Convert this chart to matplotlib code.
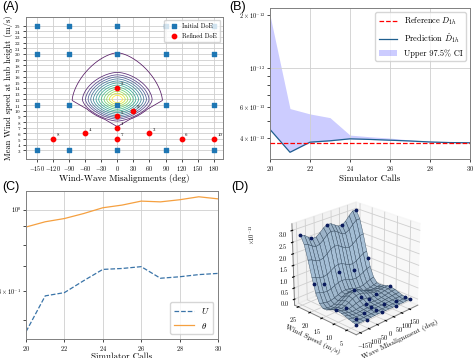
import numpy as np
import matplotlib
matplotlib.use('Agg')
import matplotlib.pyplot as plt
from mpl_toolkits.mplot3d import Axes3D  # noqa

plt.rcParams['font.family'] = 'serif'
plt.rcParams['font.serif'] = ['cmr10', 'DejaVu Serif']
plt.rcParams['mathtext.fontset'] = 'cm'
plt.rcParams['axes.formatter.use_mathtext'] = True
plt.rcParams['axes.edgecolor'] = '#808080'
plt.rcParams['axes.linewidth'] = 0.7
plt.rcParams['grid.color'] = '#cfcfcf'
plt.rcParams['grid.linewidth'] = 0.6

# ---------------- data ----------------
# Panel A: design of experiments
init_mis = [-150, -90, 0, 90, 180]
init_wind = [3, 11, 20, 25]
ref_mis = [0, 0, 60, -60, 0, 120, 0, -120, 30, 180]
ref_wind = [7, 14, 6, 6, 9, 5, 5, 5, 10, 5]
ref_order = [1, 2, 3, 4, 5, 6, 7, 8, 9, 10]
x_ticks_a = [-150, -120, -90, -60, -30, 0, 30, 60, 90, 120, 150, 180]
y_ticks_a = list(range(3, 26))

# Panel B: damage convergence
calls = [20, 21, 22, 23, 24, 25, 26, 27, 28, 29, 30]
d_reference = 3.76e-13
d_pred = [4.49e-13, 3.33e-13, 3.80e-13, 3.87e-13, 3.97e-13, 3.94e-13,
          3.90e-13, 3.86e-13, 3.81e-13, 3.78e-13, 3.77e-13]
d_upper = [2.00e-12, 5.90e-13, 5.50e-13, 5.24e-13, 4.17e-13, 4.08e-13,
           4.01e-13, 3.91e-13, 3.85e-13, 3.82e-13, 3.80e-13]

# Panel C: length scales
len_U = [0.465, 0.582, 0.594, 0.640, 0.687, 0.691, 0.699, 0.650, 0.656, 0.665, 0.670]
len_theta = [0.896, 0.926, 0.945, 0.975, 1.011, 1.028, 1.054, 1.049, 1.063, 1.083, 1.069]

# Panel D: simulated damage at DoE points (units of 1e-11), rows = init_wind
z_init = [[0.00, 0.00, 0.01, 0.00, 0.01],
          [0.20, 0.10, 0.30, 0.15, 0.20],
          [0.90, 0.75, 1.00, 0.80, 1.10],
          [2.80, 2.50, 2.85, 2.60, 3.05]]
z_ref = [0.05, 0.45, 0.03, 0.03, 0.10, 0.02, 0.02, 0.02, 0.15, 0.02]

fig = plt.figure(figsize=(4.74, 3.58), dpi=100)

# ---------------- Panel A ----------------
axA = fig.add_axes([0.0549, 0.5559, 0.4156, 0.3966])
axA.set_axisbelow(True)
X, Y = np.meshgrid(np.linspace(-170, 197, 300), np.linspace(1.5, 26.5, 300))
yc = 11.8
pb = 1.6
Rb = np.where(Y >= yc,
              (np.abs(X / 84) ** pb + np.abs((Y - yc) / 8.4) ** pb) ** (1 / pb),
              np.abs(X) / 84 + (yc - Y) / 4.6)
broad = 0.06 * np.exp(-Rb ** 8)
dyy = Y - 12.0
my = np.where(dyy >= 0, 4.8, 3.9)
p = 1.7
Rm = (np.abs(X / 66) ** p + np.abs(dyy / my) ** p) ** (1 / p)
main = np.clip(1 - Rm, 0, None)
dens = broad + main
levels = [0.022, 0.07] + list(np.linspace(0.16, 0.91, 11))
axA.contour(X, Y, dens, levels=levels, cmap='viridis', linewidths=0.55,
            alpha=0.9)

gx, gy = np.meshgrid(init_mis, init_wind)
axA.scatter(gx.ravel(), gy.ravel(), marker='s', s=9, color='#1f77b4',
            label='Initial DoE', zorder=3)
axA.scatter(ref_mis, ref_wind, marker='o', s=10, color='red',
            label='Refined DoE', zorder=4)
for xm, yw, k in zip(ref_mis, ref_wind, ref_order):
    axA.annotate(str(k), (xm, yw), xytext=(2.5, 2), textcoords='offset points',
                 fontsize=3.5)
axA.set_xticks(x_ticks_a)
axA.set_yticks(y_ticks_a)
axA.tick_params(labelsize=4.5, length=2, width=0.5, pad=1.5)
axA.tick_params(axis='y', labelsize=3.6)
axA.grid(True)
axA.set_xlabel('Wind-Wave Misalignments (deg)', fontsize=6.5, labelpad=1)
axA.set_ylabel('Mean Wind speed at hub height (m/s)', fontsize=6.1, labelpad=1)
axA.legend(loc='upper right', fontsize=4.5, handletextpad=0.3, borderpad=0.5,
           labelspacing=0.6, framealpha=0.8)

# ---------------- Panel B ----------------
axB = fig.add_axes([0.5696, 0.5559, 0.4219, 0.4218])
axB.plot([calls[0], calls[-1]], [d_reference, d_reference], 'r--', lw=0.9,
         label=r'Reference $D_{1h}$', zorder=3)
axB.plot(calls, d_pred, color='#1f5f8f', lw=0.9,
         label=r'Prediction $\hat{D}_{1h}$', zorder=2)
axB.fill_between(calls, d_pred, d_upper, color='b', alpha=0.2, lw=0,
                 label='Upper 97.5% CI')
axB.set_yscale('log')
axB.set_xlim(20, 30)
axB.set_ylim(3.05e-13, 2.2e-12)
axB.set_xticks([20, 22, 24, 26, 28, 30])
axB.grid(True)
axB.tick_params(which='both', labelsize=4.5, length=2, width=0.5, pad=1.5)
axB.set_xlabel('Simulator Calls', fontsize=6.5, labelpad=1)
axB.legend(loc='upper right', fontsize=6, handlelength=2.2, framealpha=0.8)

# ---------------- Panel C ----------------
axC = fig.add_axes([0.0549, 0.0539, 0.405, 0.4134])
axC.plot(calls, len_U, '--', color='#3a74a8', lw=0.9, label=r'$U$')
axC.plot(calls, len_theta, '-', color='#f5a040', lw=0.9, label=r'$\theta$')
axC.set_yscale('log')
axC.set_xlim(20, 30)
axC.set_ylim(0.445, 1.125)
axC.set_xticks([20, 22, 24, 26, 28, 30])
axC.grid(True)
axC.tick_params(which='both', labelsize=4.5, length=2, width=0.5, pad=1.5)
axC.set_xlabel('Simulator Calls', fontsize=6.5, labelpad=0)
axC.legend(loc='lower right', fontsize=6.5, handlelength=2.2, framealpha=0.8)

# ---------------- Panel D ----------------
axD = fig.add_axes([0.547, 0.033, 0.40, 0.44], projection='3d')
mis_all = np.array(list(gx.ravel()) + ref_mis, dtype=float)
wind_all = np.array(list(gy.ravel()) + ref_wind, dtype=float)
z_all = np.array(list(np.array(z_init).ravel()) + z_ref)
P = np.column_stack([mis_all, wind_all])


def kern(a, b):
    d0 = (a[:, None, 0] - b[None, :, 0]) / 70.0
    d1 = (a[:, None, 1] - b[None, :, 1]) / 4.5
    return np.exp(-0.5 * (d0 ** 2 + d1 ** 2))


alpha = np.linalg.solve(kern(P, P) + 1e-8 * np.eye(len(P)), z_all)
MX, WY = np.meshgrid(np.linspace(-150, 180, 16), np.linspace(3, 25, 16))
G = np.column_stack([MX.ravel(), WY.ravel()])
ZS = (kern(G, P) @ alpha).reshape(MX.shape)
axD.plot_surface(MX, WY, ZS, rstride=1, cstride=1, color='#b2d5f4',
                 edgecolor='#34495e', linewidth=0.3, alpha=0.85, shade=True)
axD.scatter(mis_all, wind_all, z_all, color='#0a1a5c', s=3, depthshade=False)
axD.view_init(elev=24, azim=-135)
axD.set_box_aspect((4, 4, 4), zoom=0.95)
axD.set_xticks([-150, -100, -50, 0, 50, 100, 150])
axD.set_yticks([5, 10, 15, 20, 25])
axD.set_zticks([0, 0.5, 1.0, 1.5, 2.0, 2.5, 3.0])
axD.tick_params(labelsize=4.5, pad=-3.5)
axD.set_xlabel('Wave Misalignment (deg)', fontsize=5.3, labelpad=-10)
axD.set_ylabel('Wind Speed (m/s)', fontsize=5.3, labelpad=-10)
fig.text(0.532, 0.345, r'$\times10^{-11}$', rotation=90, fontsize=4.5,
         ha='center', va='center')

# ---------------- panel letters ----------------
lab = dict(fontsize=9, family='Liberation Sans', va='top')
fig.text(0.004, 0.998, '(A)', **lab)
fig.text(0.484, 0.998, '(B)', **lab)
fig.text(0.004, 0.495, '(C)', **lab)
fig.text(0.488, 0.495, '(D)', **lab)

fig.savefig('out.png', dpi=100)
